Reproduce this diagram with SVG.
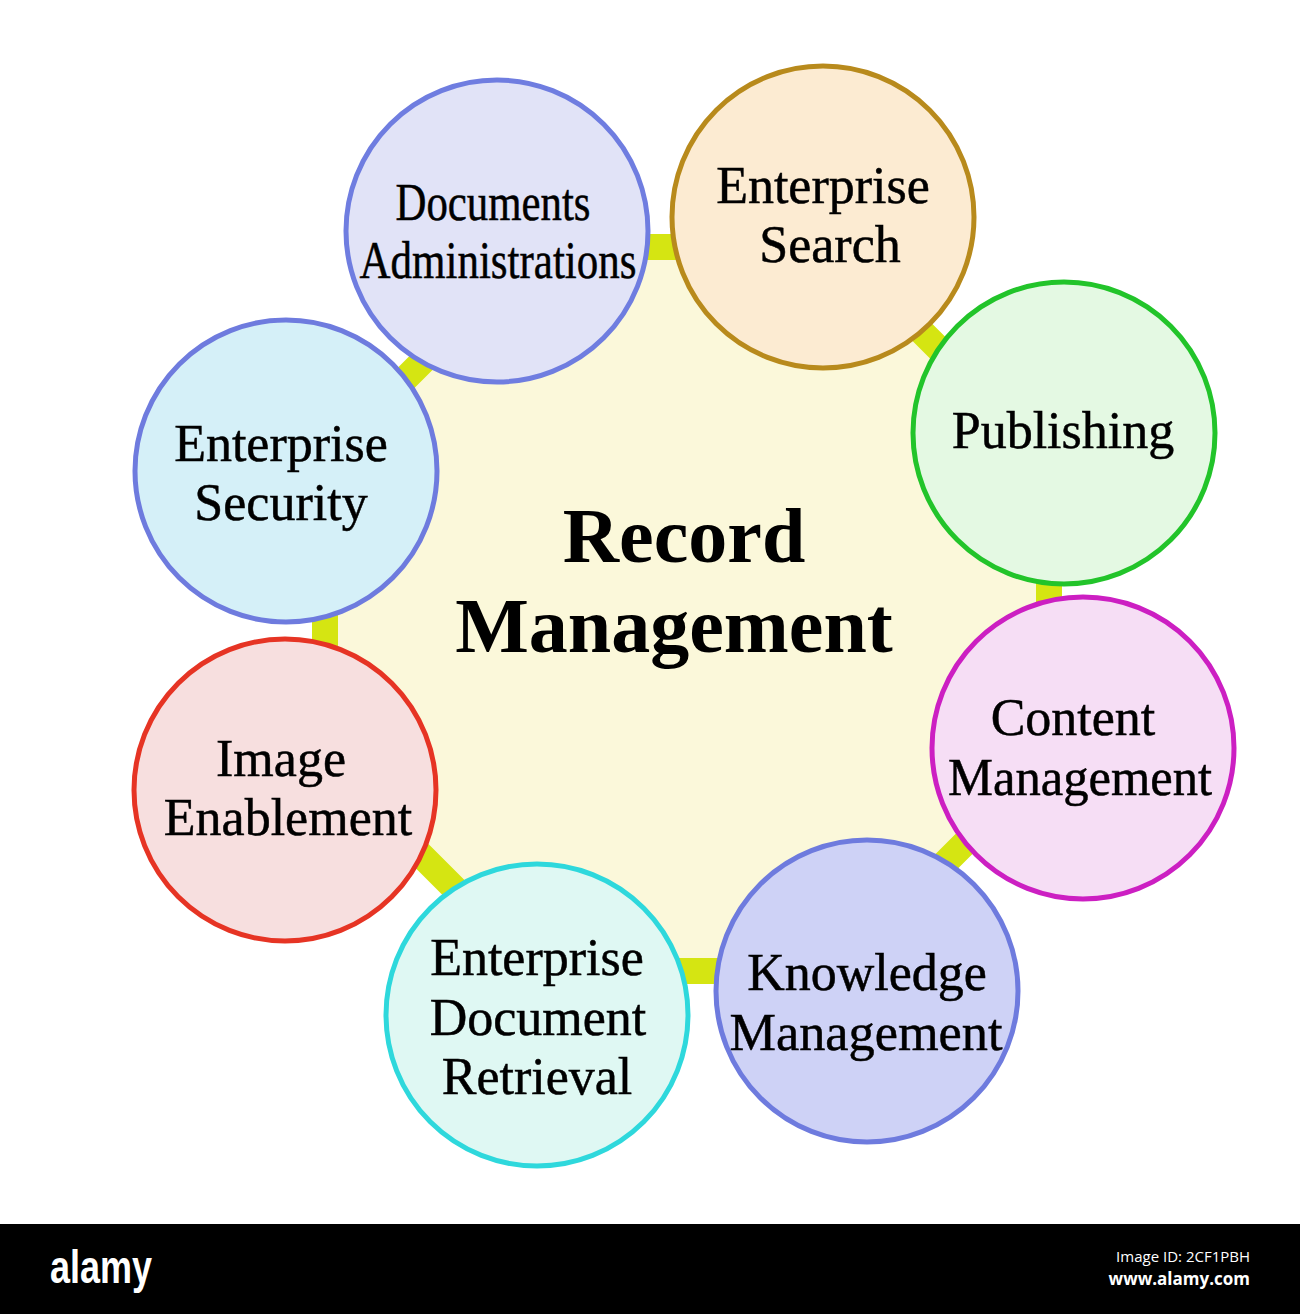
<svg xmlns="http://www.w3.org/2000/svg" width="1300" height="1314" viewBox="0 0 1300 1314">
<style>
.node circle{stroke-width:5}
.lbl{font-family:"Liberation Serif","Times New Roman",serif;font-size:52px;fill:#000;stroke:#000;stroke-width:0.5;text-anchor:middle}
.title{font-family:"Liberation Serif","Times New Roman",serif;font-size:78px;font-weight:bold;fill:#000;text-anchor:middle}
</style>
<rect x="0" y="0" width="1300" height="1314" fill="#ffffff"/>
<g id="connectors">
<polygon points="537,247 837,247 1049,459 1049,759 837,971 537,971 325,759 325,459" fill="#FBF8DA" stroke="#D5E512" stroke-width="26" stroke-linejoin="miter"/>
</g>
<g id="center">
<text class="title" x="684" y="562">Record</text>
<text class="title" x="674" y="652">Management</text>
</g>
<g id="node-documents" class="node">
<circle cx="497" cy="231" r="151" fill="#E1E3F7" stroke="#6F7DE0"/>
<text class="lbl" x="493" y="220" textLength="195" lengthAdjust="spacingAndGlyphs">Documents</text>
<text class="lbl" x="498" y="278" textLength="277" lengthAdjust="spacingAndGlyphs">Administrations</text>
</g>
<g id="node-search" class="node">
<circle cx="823" cy="217" r="151" fill="#FCEBD2" stroke="#B88A1C"/>
<text class="lbl" x="823" y="203">Enterprise</text>
<text class="lbl" x="830" y="262">Search</text>
</g>
<g id="node-publishing" class="node">
<circle cx="1064" cy="433" r="151" fill="#E4F9E3" stroke="#22C42A"/>
<text class="lbl" x="1063" y="448">Publishing</text>
</g>
<g id="node-content" class="node">
<circle cx="1083" cy="748" r="151" fill="#F6DEF5" stroke="#CC1FC2"/>
<text class="lbl" x="1073" y="735">Content</text>
<text class="lbl" x="1080" y="795" textLength="264" lengthAdjust="spacingAndGlyphs">Management</text>
</g>
<g id="node-knowledge" class="node">
<circle cx="867" cy="991" r="151" fill="#CED2F6" stroke="#6E7BDE"/>
<text class="lbl" x="867" y="990">Knowledge</text>
<text class="lbl" x="866" y="1050" textLength="273" lengthAdjust="spacingAndGlyphs">Management</text>
</g>
<g id="node-retrieval" class="node">
<circle cx="537" cy="1015" r="151" fill="#DFF8F3" stroke="#2ED8DC"/>
<text class="lbl" x="537" y="975">Enterprise</text>
<text class="lbl" x="538" y="1035">Document</text>
<text class="lbl" x="537" y="1094">Retrieval</text>
</g>
<g id="node-image" class="node">
<circle cx="285" cy="790" r="151" fill="#F7DFDF" stroke="#E63424"/>
<text class="lbl" x="281" y="776">Image</text>
<text class="lbl" x="288" y="835">Enablement</text>
</g>
<g id="node-security" class="node">
<circle cx="286" cy="471" r="151" fill="#D5F0F8" stroke="#6E7BDE"/>
<text class="lbl" x="281" y="461">Enterprise</text>
<text class="lbl" x="281" y="520">Security</text>
</g>
<g id="footer">
<rect x="0" y="1224" width="1300" height="90" fill="#000000"/>
<text x="50" y="1283" font-family="Liberation Sans, Arial, sans-serif" font-size="46" font-weight="bold" fill="#ffffff" textLength="102" lengthAdjust="spacingAndGlyphs">alamy</text>
<text x="1250" y="1262" font-family="Open Sans, sans-serif" font-size="15" fill="#ffffff" text-anchor="end">Image ID: 2CF1PBH</text>
<text x="1250" y="1285" font-family="Open Sans, sans-serif" font-size="17" font-weight="bold" fill="#ffffff" text-anchor="end">www.alamy.com</text>
</g>
</svg>
